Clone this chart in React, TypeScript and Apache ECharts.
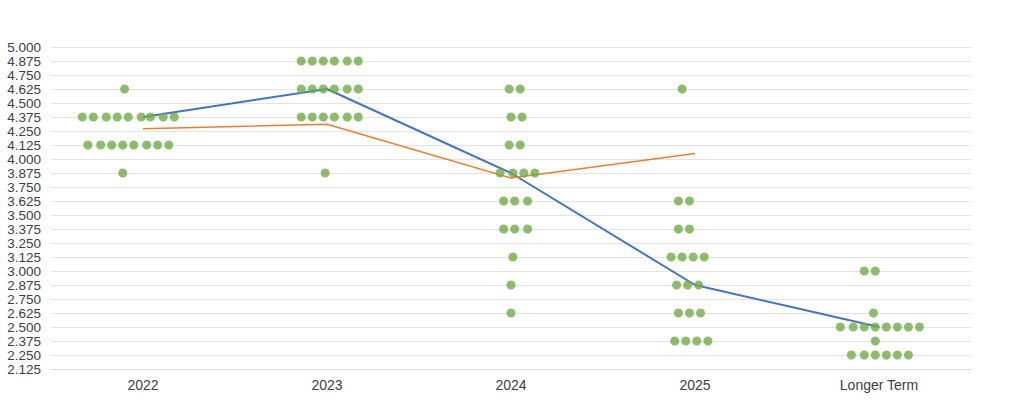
import { useEffect, useRef } from "react";
import * as echarts from "echarts";

const categories = ["2022", "2023", "2024", "2025", "Longer Term"];

// median of the projections, one per category
const median = [4.375, 4.625, 3.875, 2.875, 2.5];
// orange comparison line (no Longer Term point)
const market = [4.27, 4.31, 3.83, 4.05];

// dots as [x position on the 0..5 category scale, rate]
const dots2022 = [
  [0.4, 4.625],
  [0.17, 4.375], [0.23, 4.375], [0.3, 4.375], [0.36, 4.375], [0.42, 4.375], [0.49, 4.375], [0.54, 4.375], [0.61, 4.375], [0.67, 4.375],
  [0.2, 4.125], [0.27, 4.125], [0.33, 4.125], [0.39, 4.125], [0.45, 4.125], [0.52, 4.125], [0.58, 4.125], [0.64, 4.125],
  [0.39, 3.875],
];
const dots2023 = [
  [1.36, 4.875], [1.42, 4.875], [1.48, 4.875], [1.54, 4.875], [1.61, 4.875], [1.67, 4.875],
  [1.36, 4.625], [1.42, 4.625], [1.48, 4.625], [1.54, 4.625], [1.61, 4.625], [1.67, 4.625],
  [1.36, 4.375], [1.42, 4.375], [1.48, 4.375], [1.54, 4.375], [1.61, 4.375], [1.67, 4.375],
  [1.49, 3.875],
];
const dots2024 = [
  [2.49, 4.625], [2.55, 4.625],
  [2.5, 4.375], [2.56, 4.375],
  [2.49, 4.125], [2.55, 4.125],
  [2.44, 3.875], [2.51, 3.875], [2.57, 3.875], [2.63, 3.875],
  [2.46, 3.625], [2.52, 3.625], [2.59, 3.625],
  [2.46, 3.375], [2.52, 3.375], [2.59, 3.375],
  [2.51, 3.125],
  [2.5, 2.875],
  [2.5, 2.625],
];
const dots2025 = [
  [3.43, 4.625],
  [3.41, 3.625], [3.47, 3.625],
  [3.41, 3.375], [3.47, 3.375],
  [3.37, 3.125], [3.43, 3.125], [3.49, 3.125], [3.55, 3.125],
  [3.4, 2.875], [3.46, 2.875], [3.52, 2.875],
  [3.41, 2.625], [3.47, 2.625], [3.53, 2.625],
  [3.39, 2.375], [3.45, 2.375], [3.51, 2.375], [3.57, 2.375],
];
const dotsLonger = [
  [4.42, 3.0], [4.48, 3.0],
  [4.47, 2.625],
  [4.29, 2.5], [4.36, 2.5], [4.42, 2.5], [4.48, 2.5], [4.54, 2.5], [4.6, 2.5], [4.66, 2.5], [4.72, 2.5],
  [4.48, 2.375],
  [4.35, 2.25], [4.42, 2.25], [4.48, 2.25], [4.54, 2.25], [4.6, 2.25], [4.66, 2.25],
];

export default function App() {
  const elRef = useRef<HTMLDivElement>(null);

  useEffect(() => {
    if (!elRef.current) return;
    const chart = echarts.init(elRef.current, undefined, { renderer: "svg" });
    const font = "Liberation Sans, Arial, sans-serif";
    chart.setOption({
      animation: false,
      backgroundColor: "#fff",
      grid: { left: 51, right: 53, top: 47, bottom: 35, containLabel: false },
      xAxis: [
        {
          type: "category",
          data: categories,
          boundaryGap: true,
          axisLine: { show: true, lineStyle: { color: "#d9d9d9" } },
          axisTick: { show: false },
          axisLabel: { color: "#404040", fontSize: 14, fontFamily: font, margin: 9 },
          splitLine: { show: false },
        },
        {
          type: "value",
          min: 0,
          max: 5,
          show: false,
        },
      ],
      yAxis: {
        type: "value",
        min: 2.125,
        max: 5,
        interval: 0.125,
        axisLine: { show: false },
        axisTick: { show: false },
        axisLabel: {
          color: "#404040",
          fontSize: 13.5,
          fontFamily: font,
          margin: 10,
          formatter: (v: number) => v.toFixed(3),
        },
        splitLine: { lineStyle: { color: "#e3e3e3", width: 1 } },
      },
      series: [
        {
          name: "Median",
          type: "line",
          xAxisIndex: 0,
          data: median,
          symbol: "none",
          lineStyle: { color: "#4472C4", width: 2 },
          z: 2,
        },
        {
          name: "Market",
          type: "line",
          xAxisIndex: 0,
          data: market,
          symbol: "none",
          lineStyle: { color: "#ED7D31", width: 1.5 },
          z: 2,
        },
        ...[dots2022, dots2023, dots2024, dots2025, dotsLonger].map((d, i) => ({
          name: "dots" + i,
          type: "scatter",
          xAxisIndex: 1,
          data: d,
          symbol: "circle",
          symbolSize: 9,
          itemStyle: { color: "#70AD47" },
          z: 3,
        })),
      ],
    });
    return () => chart.dispose();
  }, []);

  return <div ref={elRef} style={{ position: "absolute", left: 0, top: 0, width: 1024, height: 404 }} />;
}
